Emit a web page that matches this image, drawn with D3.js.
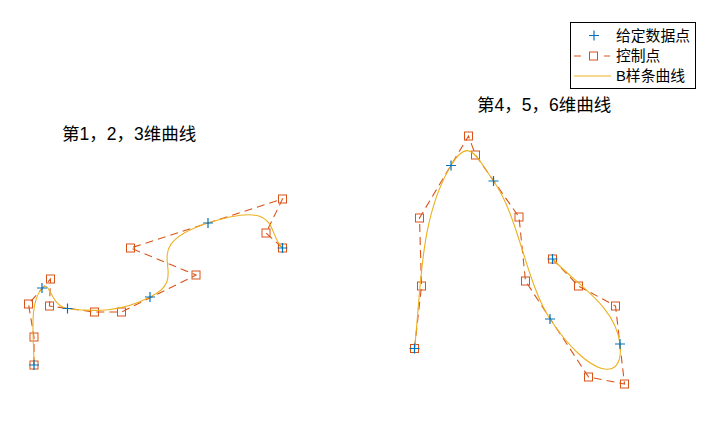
<!DOCTYPE html>
<html>
<head>
<meta charset="utf-8">
<script src="https://cdn.jsdelivr.net/npm/d3@7"></script>
<style>
html,body{margin:0;padding:0;background:#fff;}
svg{display:block;}
text{font-family:"Liberation Sans","Noto Sans CJK SC",sans-serif;fill:#000;}
</style>
</head>
<body>
<svg id="chart" width="710" height="447"></svg>
<script>
// ---- data (plot units, y upward) ----
// curve 1 (dimensions 1,2,3)
const curve1PointsX = [34, 42, 67.5, 150, 208, 282.5];
const curve1PointsY = [82, 159, 138.5, 150, 224, 199];
const curve1CtrlX = [34, 34, 28.5, 50.5, 49.5, 94.5, 121.5, 196, 130.5, 282.5, 266, 282.5];
const curve1CtrlY = [82, 110, 143, 168, 141, 135, 135, 172, 199, 248, 214, 199];
// curve 2 (dimensions 4,5,6)
const curve2PointsX = [414.5, 451, 493.5, 550, 620, 552.5];
const curve2PointsY = [98.5, 281.5, 266, 128, 103, 188];
const curve2CtrlX = [414.5, 421.5, 419.5, 468.5, 475.5, 519, 525.5, 588.5, 624.5, 615.5, 578.5, 552.5];
const curve2CtrlY = [98.5, 161, 229, 311, 292, 230, 166, 70, 63, 141, 161, 188];
const curveTitles = ["第1，2，3维曲线", "第4，5，6维曲线"];
const legendLabels = ["给定数据点", "控制点", "B样条曲线"];

const colors = {data: "#0072BD", ctrl: "#D95319", spline: "#EDB120"};
const W = 710, H = 447;
const svg = d3.select("#chart");
const x = d3.scaleLinear().domain([0, 710]).range([0, W]);
const y = d3.scaleLinear().domain([0, 447]).range([H, 0]);

const curves = [
  {px: curve1PointsX, py: curve1PointsY, cx: curve1CtrlX, cy: curve1CtrlY},
  {px: curve2PointsX, py: curve2PointsY, cx: curve2CtrlX, cy: curve2CtrlY}
];

function splinePath(c) {
  // cubic B-spline with double interior knots -> piecewise Bezier segments
  const p = d3.path();
  p.moveTo(x(c.px[0]), y(c.py[0]));
  for (let i = 0; i < c.px.length - 1; i++) {
    p.bezierCurveTo(x(c.cx[2*i+1]), y(c.cy[2*i+1]), x(c.cx[2*i+2]), y(c.cy[2*i+2]),
                    x(c.px[i+1]), y(c.py[i+1]));
  }
  return p.toString();
}

const dash = "8,5";
const sq = 8, plus = 5;

function drawSquare(g, cx, cy) {
  g.append("rect").attr("x", cx - sq/2).attr("y", cy - sq/2).attr("width", sq).attr("height", sq)
    .attr("fill", "none").attr("stroke", colors.ctrl).attr("stroke-width", 1);
}
function drawPlus(g, cx, cy) {
  g.append("path").attr("d", `M${cx-plus},${cy}H${cx+plus}M${cx},${cy-plus}V${cy+plus}`)
    .attr("stroke", colors.data).attr("stroke-width", 1.2).attr("fill", "none");
}

curves.forEach(c => {
  const g = svg.append("g");
  const ctrl = c.cx.map((v, i) => [x(v), y(c.cy[i])]);
  g.append("path").attr("d", d3.line()(ctrl)).attr("fill", "none")
    .attr("stroke", colors.ctrl).attr("stroke-width", 1.1).attr("stroke-dasharray", dash);
  ctrl.forEach(pt => drawSquare(g, pt[0], pt[1]));
  g.append("path").attr("d", splinePath(c)).attr("fill", "none")
    .attr("stroke", colors.spline).attr("stroke-width", 1.1);
  c.px.forEach((v, i) => drawPlus(g, x(v), y(c.py[i])));
});

// titles
const titlePos = [[62, 140], [477, 111]];
curveTitles.forEach((t, i) => {
  svg.append("text").attr("x", titlePos[i][0]).attr("y", titlePos[i][1])
    .attr("font-size", 17.5).text(t);
});

// legend
const lg = svg.append("g");
lg.append("rect").attr("x", 570.5).attr("y", 22.5).attr("width", 125).attr("height", 66)
  .attr("fill", "#fff").attr("stroke", "#000").attr("stroke-width", 1);
const rowY = [35.5, 56, 76];
drawPlus(lg, 594, rowY[0]);
lg.append("line").attr("x1", 574).attr("x2", 611).attr("y1", rowY[1]).attr("y2", rowY[1])
  .attr("stroke", colors.ctrl).attr("stroke-width", 1.1).attr("stroke-dasharray", "7,23,6,100");
drawSquare(lg, 593.5, rowY[1]);
lg.append("line").attr("x1", 574).attr("x2", 611).attr("y1", rowY[2]).attr("y2", rowY[2])
  .attr("stroke", colors.spline).attr("stroke-width", 1.1);
legendLabels.forEach((t, i) => {
  lg.append("text").attr("x", 616).attr("y", rowY[i]).attr("dy", "0.36em")
    .attr("font-size", 14.8).text(t);
});
</script>
</body>
</html>
